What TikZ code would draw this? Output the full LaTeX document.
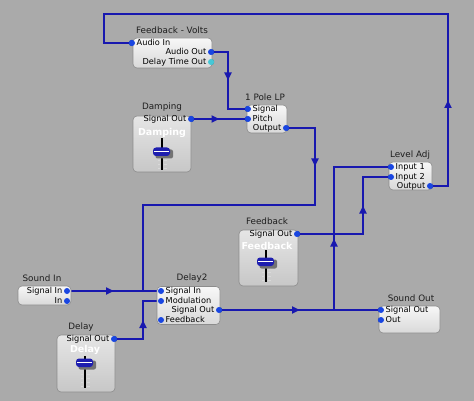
\documentclass[tikz,border=0pt]{standalone}
\usepackage{fontspec}
\setmainfont{DejaVu Sans}
\usetikzlibrary{arrows.meta,decorations.markings}
\definecolor{bgc}{RGB}{170,170,170}
\definecolor{wirec}{RGB}{24,24,175}
\definecolor{portc}{RGB}{25,70,225}
\definecolor{cyanp}{RGB}{70,200,215}
\definecolor{titlec}{RGB}{30,30,30}
\definecolor{boxedge}{RGB}{140,140,140}
\definecolor{knobc}{RGB}{30,30,175}
\begin{document}
\begin{tikzpicture}[x=1pt,y=-1pt,
 wire/.style={draw=wirec, line width=2.3pt, line join=miter},
 midarrow/.style={postaction={decorate}, decoration={markings, mark=at position 0.5 with {\arrow[wirec]{Triangle[length=8pt,width=7pt]}}}},
 modbox/.style={draw=boxedge, rounded corners=4pt, top color=white!97!black, bottom color=white!85!black, line width=0.6pt, inner sep=0},
 slidebox/.style={modbox, top color=white!90!black, bottom color=white!78!black},
 dot/.style={circle, inner sep=0, minimum size=6pt, fill=portc, draw=portc!70!black, line width=0.3pt},
 cdot/.style={dot, fill=cyanp, draw=cyanp!70!black},
 lbl/.style={font=\fontsize{8.2}{9}\selectfont, inner sep=0, text height=5.9pt, text depth=0pt},
 ttl/.style={font=\fontsize{8.8}{10}\selectfont, text=titlec, inner sep=0},
 wtxt/.style={font=\bfseries\fontsize{9.5}{11}\selectfont, text=white, inner sep=0},
]
% background
\fill[bgc] (0,0) rectangle (474,401);
\useasboundingbox (0,0) rectangle (474,401);

% ---------- port dots (named) ----------
\node[dot] (fvAin) at (132,43) {};
\node[dot] (fvAout) at (211,52) {};
\node[cdot] (fvDT) at (211,62) {};
\node[dot] (lpSig) at (248,109) {};
\node[dot] (lpPitch) at (248,119) {};
\node[dot] (lpOut) at (286,128) {};
\node[dot] (la1) at (391,167) {};
\node[dot] (la2) at (391,177) {};
\node[dot] (laOut) at (430,186) {};
\node[dot] (dmOut) at (191,119) {};
\node[dot] (fbOut) at (297,234) {};
\node[dot] (siSig) at (67,291) {};
\node[dot] (siIn) at (67,301) {};
\node[dot] (d2Sig) at (161,291) {};
\node[dot] (d2Mod) at (161,301) {};
\node[dot] (d2Out) at (219,310) {};
\node[dot] (d2Fb) at (161,320) {};
\node[dot] (dlOut) at (114,339) {};
\node[dot] (soSig) at (381,310) {};
\node[dot] (soOut) at (381,320) {};

% ---------- bend coordinates ----------
\coordinate (w1a) at (448,186);
\coordinate (w1b) at (448,14);
\coordinate (w1c) at (104,14);
\coordinate (w1d) at (104,43);
\coordinate (w2a) at (228,52);
\coordinate (w2b) at (228,109);
\coordinate (w4a) at (315,128);
\coordinate (w4b) at (315,205);
\coordinate (w4c) at (143,205);
\coordinate (w4d) at (143,291);
\coordinate (w6a) at (143,339);
\coordinate (w6b) at (143,301);
\coordinate (w8a) at (334,310);
\coordinate (w8b) at (334,167);
\coordinate (w9a) at (363,234);
\coordinate (w9b) at (363,177);

% ---------- wires ----------
\draw[wire] (laOut.center) -- (w1a) -- (w1b) -- (w1c) -- (w1d) -- (fvAin.center);
\draw[wire,midarrow] (w1a) -- (w1b);
\draw[wire] (fvAout.center) -- (w2a) -- (w2b) -- (lpSig.center);
\draw[wire,midarrow] (w2a) -- (w2b);
\draw[wire,midarrow] (dmOut.center) -- (lpPitch.center);
\draw[wire] (lpOut.center) -- (w4a) -- (w4b) -- (w4c) -- (w4d);
\draw[wire,midarrow] (w4a) -- (w4b);
\draw[wire,midarrow] (siSig.center) -- (d2Sig.center);
\draw[wire] (dlOut.center) -- (w6a) -- (w6b) -- (d2Mod.center);
\draw[wire,midarrow] (w6a) -- (w6b);
\draw[wire,midarrow] (d2Out.center) -- (soSig.center);
\draw[wire] (w8a) -- (w8b) -- (la1.center);
\draw[wire,midarrow] (w8a) -- (w8b);
\draw[wire] (fbOut.center) -- (w9a) -- (w9b) -- (la2.center);
\draw[wire,midarrow] (w9a) -- (w9b);

% ---------- module boxes ----------
\node[modbox, minimum width=79pt, minimum height=30pt] (fv) at (172.5,53) {};
\node[modbox, minimum width=40pt, minimum height=28pt] (lp) at (267,119) {};
\node[modbox, minimum width=43pt, minimum height=28pt] (la) at (410.5,176) {};
\node[modbox, minimum width=53pt, minimum height=19pt] (si) at (44.5,295.5) {};
\node[modbox, minimum width=63pt, minimum height=38pt] (d2) at (188.5,305.5) {};
\node[modbox, minimum width=61pt, minimum height=27pt] (so) at (409.5,319.5) {};
\node[slidebox, minimum width=58pt, minimum height=56pt] (dm) at (162,144) {};
\node[slidebox, minimum width=59pt, minimum height=56pt] (fb) at (268.5,258) {};
\node[slidebox, minimum width=58pt, minimum height=57pt] (dl) at (86,363.5) {};

% ---------- slider captions (white) ----------
\node[wtxt] (dmW) at (162,133) {Damping};
\node[wtxt] (fbW) at (267,246) {Feedback};
\node[wtxt] (dlW) at (85,350) {Delay};

% ---------- sliders ----------
\foreach \sx/\sy/\kn in {162/138/14, 266/250/12, 85/356/7}{
  \begin{scope}[shift={(\sx,\sy)}]
    \draw[line width=2.8pt, black] (0,0) -- (0,32);
    \foreach \t in {18,22,26,30}{
      \draw[white!85!black, line width=0.6pt] (-4.5,\t) -- (-2,\t);
      \draw[white!85!black, line width=0.6pt] (2,\t) -- (4.5,\t);
    }
    \fill[black!55, rounded corners=2pt] (-6.5,\kn-2.5) rectangle (11,\kn+6.5);
    \fill[knobc, rounded corners=3pt] (-9,\kn-4.5) rectangle (8,\kn+4);
    \draw[white, line width=1.4pt] (-8,\kn-0.3) -- (7,\kn-0.3);
  \end{scope}
}

% ---------- redraw dots on top ----------
\foreach \p in {fvAin,fvAout,lpSig,lpPitch,lpOut,la1,la2,laOut,dmOut,fbOut,siSig,siIn,d2Sig,d2Mod,d2Out,d2Fb,dlOut,soSig,soOut}{
  \fill[portc] (\p.center) circle (3pt);
}
\fill[cyanp] (fvDT.center) circle (3pt);

% ---------- titles ----------
\node[ttl] (fvT) at (172,30) {Feedback - Volts};
\node[ttl] (lpT) at (265,97) {1 Pole LP};
\node[ttl] (laT) at (410,155) {Level Adj};
\node[ttl] (dmT) at (162,107) {Damping};
\node[ttl] (fbT) at (267,221) {Feedback};
\node[ttl] (siT) at (42,278) {Sound In};
\node[ttl] (d2T) at (192,278) {Delay2};
\node[ttl] (dlT) at (81,327) {Delay};
\node[ttl] (soT) at (411,298) {Sound Out};

% ---------- port labels ----------
\node[lbl, anchor=west] (fvAinL) at (136.5,43) {Audio In};
\node[lbl, anchor=east] (fvAoutL) at (206.5,52) {Audio Out};
\node[lbl, anchor=east] (fvDTL) at (206.5,62) {Delay Time Out};
\node[lbl, anchor=west] (lpSigL) at (252.5,109) {Signal};
\node[lbl, anchor=west] (lpPitchL) at (252.5,119) {Pitch};
\node[lbl, anchor=east] (lpOutL) at (281.5,128) {Output};
\node[lbl, anchor=west] (la1L) at (395.5,167) {Input 1};
\node[lbl, anchor=west] (la2L) at (395.5,177) {Input 2};
\node[lbl, anchor=east] (laOutL) at (425.5,186) {Output};
\node[lbl, anchor=east] (dmOutL) at (186.5,119) {Signal Out};
\node[lbl, anchor=east] (fbOutL) at (292.5,234) {Signal Out};
\node[lbl, anchor=east] (siSigL) at (62.5,291) {Signal In};
\node[lbl, anchor=east] (siInL) at (62.5,301) {In};
\node[lbl, anchor=west] (d2SigL) at (165.5,291) {Signal In};
\node[lbl, anchor=west] (d2ModL) at (165.5,301) {Modulation};
\node[lbl, anchor=east] (d2OutL) at (214.5,310) {Signal Out};
\node[lbl, anchor=west] (d2FbL) at (165.5,320) {Feedback};
\node[lbl, anchor=east] (dlOutL) at (109.5,339) {Signal Out};
\node[lbl, anchor=west] (soSigL) at (385.5,310) {Signal Out};
\node[lbl, anchor=west] (soOutL) at (385.5,320) {Out};
\end{tikzpicture}
\end{document}
